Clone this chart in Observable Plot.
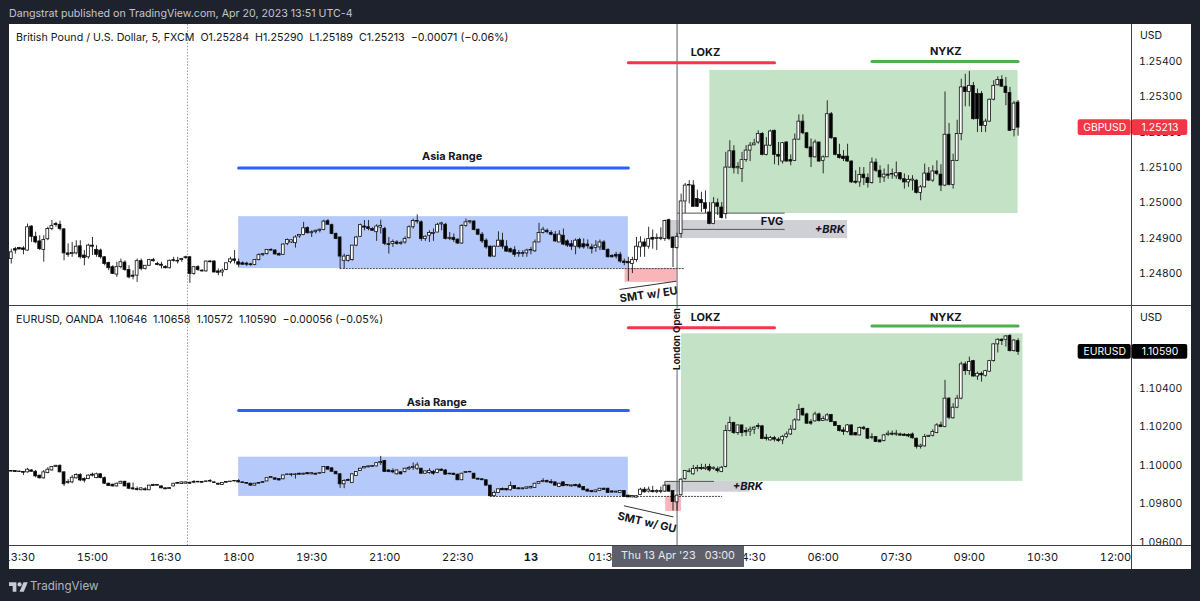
<!DOCTYPE html>
<html><head><meta charset="utf-8">
<script src="https://cdn.jsdelivr.net/npm/d3@7"></script>
<script src="https://cdn.jsdelivr.net/npm/@observablehq/plot@0.6"></script>
<style>
html,body{margin:0;padding:0;width:1200px;height:601px;overflow:hidden;background:#1e222d;font-family:Inter,"Noto Sans",sans-serif}
.abs{position:absolute;white-space:pre}
.hair{position:absolute;background:#3c3f48}
#panel{position:absolute;left:9px;top:24px;width:1182px;height:545px;background:#fff}
svg.plot-host{position:absolute}
</style></head><body>
<div id="panel"></div>
<div class="abs" style="left:9px;top:7px;font-size:10.65px;line-height:14px;color:#c3c6ce">Dangstrat published on TradingView.com, Apr 20, 2023 13:51 UTC-4</div>
<div id="top" style="position:absolute;left:9px;top:24px"></div>
<div id="bottom" style="position:absolute;left:9px;top:305px"></div>
<div class="abs" style="left:16px;top:31px;font-size:10.7px;line-height:14px;color:#131722">British Pound / U.S. Dollar, 5, FXCM  O1.25284  H1.25290  L1.25189  C1.25213  −0.00071 (−0.06%)</div>
<div class="abs" style="left:16px;top:313px;font-size:10.7px;line-height:14px;color:#131722">EURUSD, OANDA  1.10646  1.10658  1.10572  1.10590  −0.00056 (−0.05%)</div>
<div class="hair" style="left:9px;top:305px;width:1182px;height:1px"></div>
<div class="hair" style="left:9px;top:545px;width:1182px;height:1px"></div>
<div class="hair" style="left:1131px;top:24px;width:1px;height:545px"></div>
<div class="abs" style="left:612px;top:546px;width:132px;height:20.5px;background:#5d606b;color:#e8e9ec;font-size:10.8px;line-height:20.5px;text-align:center">Thu 13 Apr '23   03:00</div>
<svg style="position:absolute;left:9px;top:581px" width="19" height="11" viewBox="0 0 36 20"><path fill="#c9cbd2" d="M14 20H7V9H0V2h14v18zM28 20h-8l7.5-18h8L28 20z"/><circle cx="20" cy="6" r="4" fill="#c9cbd2"/></svg>
<div class="abs" style="left:30px;top:578px;font-size:11.6px;line-height:17px;color:#b2b5be">TradingView</div>
<script>
// Candles: time of first bar in minutes from 18:00 on 12 Apr, 5-minute step.
const firstBar = -280, barStep = 5;
const gbpBase = 1.24, eurBase = 1.09;
// GBPUSD open, high, low, close per bar, in 0.00001 above gbpBase
const gbpBars = [
841,869,827,860, 869,874,855,865, 872,874,868,868, 871,876,853,867, 865,940,863,931, 933,935,888,904, 904,917,884,888, 891,907,865,869,
867,907,832,895, 897,931,893,926, 926,950,921,935, 940,945,931,937, 938,948,921,926, 925,927,836,857, 857,884,846,853, 855,888,846,858,
857,893,853,876, 877,893,841,846, 851,865,822,844, 846,883,841,879, 879,902,851,876, 867,879,846,853, 865,869,841,846, 846,848,822,827,
830,832,808,815, 818,822,797,799, 797,832,789,818, 818,841,813,832, 831,836,806,810, 810,822,785,789, 794,808,782,791, 794,841,775,835,
835,841,808,813, 813,822,810,822, 822,840,820,838, 838,843,832,835, 827,832,822,824, 825,832,813,822, 819,822,813,815, 815,838,813,836,
838,846,832,836, 836,846,827,834, 838,843,832,841, 846,849,840,844, 846,848,772,799, 799,820,795,818, 818,822,806,810, 808,811,804,806,
806,835,804,834, 834,837,830,832, 834,836,802,803, 806,813,794,802, 803,813,791,808, 810,830,808,829, 832,846,827,840, 840,865,827,836,
832,841,818,825, 829,833,823,825, 828,832,820,825, 826,829,820,824, 824,840,822,838, 838,856,836,852, 852,856,848,855, 855,868,852,867,
867,870,863,865, 865,868,853,854, 855,858,850,851, 853,884,851,882, 884,898,879,895, 888,896,885,894, 886,907,872,902, 905,910,900,909,
909,945,907,928, 929,932,912,914, 914,921,902,917, 917,923,912,921, 921,926,915,924, 923,951,921,947, 948,953,938,938, 937,940,910,912,
912,915,896,898, 902,903,813,848, 836,855,813,848, 836,852,832,850, 838,880,835,879, 879,905,876,902, 904,940,902,937, 933,950,921,930,
931,950,921,926, 926,930,920,921, 917,938,891,933, 930,951,912,935, 926,931,879,884, 883,902,855,881, 884,895,874,889, 888,893,880,884,
884,891,880,887, 888,904,883,898, 900,935,898,931, 931,954,926,949, 949,966,940,947, 945,949,891,898, 898,907,891,904, 907,921,888,915,
912,926,891,915, 916,942,916,938, 939,945,921,942, 938,942,895,898, 898,916,893,901, 901,912,888,895, 896,898,882,885, 885,938,883,935,
935,954,931,945, 945,950,940,948, 947,950,921,923, 924,926,907,910, 910,916,885,891, 893,898,869,874, 876,878,845,848, 848,878,846,876,
876,918,874,893, 893,914,869,876, 876,893,860,862, 869,872,858,860, 866,876,846,853, 855,865,846,858, 855,865,846,858, 857,869,846,865,
865,874,853,867, 863,895,860,888, 888,942,888,915, 915,931,912,924, 921,926,912,917, 915,921,907,910, 910,919,888,891, 888,921,888,910,
907,926,879,882, 891,895,874,879, 883,893,865,876, 876,898,853,893, 895,900,869,874, 883,898,869,874, 882,895,869,877, 874,883,855,869,
872,893,860,879, 874,895,865,888, 888,893,865,867, 867,870,844,846, 850,853,844,846, 853,860,841,848, 853,860,829,834, 834,841,822,830,
833,846,778,829, 827,846,800,838, 838,902,832,876, 874,904,846,888, 888,898,846,876, 876,931,869,898, 901,923,869,896, 898,912,865,901,
898,929,893,901, 898,951,891,949, 951,954,893,898, 902,904,817,872, 872,914,869,904, 912,1025,900,1004, 1004,1055,970,1049, 1049,1063,997,1051,
1049,1063,987,989, 1011,1036,987,989, 1008,1030,973,999, 999,1034,970,983, 973,1001,938,940, 940,1015,938,999, 999,1011,964,989, 987,1001,954,957,
968,1143,954,1100, 1100,1176,1098,1146, 1146,1162,1082,1098, 1098,1114,1080,1102, 1096,1143,1058,1121, 1121,1162,1115,1148, 1148,1171,1117,1162, 1163,1180,1162,1168,
1171,1204,1166,1195, 1195,1199,1133,1136, 1136,1185,1133,1162, 1162,1206,1159,1202, 1204,1206,1108,1136, 1136,1171,1105,1131, 1117,1171,1110,1169, 1171,1173,1115,1117,
1121,1136,1105,1117, 1119,1195,1117,1179, 1179,1249,1178,1230, 1230,1249,1193,1197, 1197,1199,1152,1155, 1157,1181,1100,1129, 1129,1178,1127,1171, 1171,1171,1115,1117,
1119,1133,1082,1129, 1129,1289,1129,1251, 1251,1256,1180,1183, 1183,1185,1133,1136, 1136,1166,1124,1127, 1131,1148,1117,1124, 1131,1166,1115,1117, 1117,1119,1055,1058,
1060,1091,1053,1057, 1058,1100,1044,1079, 1080,1100,1049,1070, 1070,1082,1042,1056, 1056,1127,1053,1114, 1114,1124,1086,1091, 1091,1105,1055,1072, 1072,1096,1058,1080,
1080,1108,1067,1077, 1080,1096,1067,1082, 1075,1116,1067,1084, 1084,1086,1063,1067, 1067,1082,1039,1058, 1058,1077,1044,1065, 1063,1077,1034,1066, 1063,1065,1025,1028,
1028,1049,1006,1044, 1044,1110,1042,1083, 1083,1100,1061,1063, 1063,1105,1058,1089, 1089,1119,1077,1082, 1080,1108,1032,1049, 1049,1314,1046,1193, 1193,1225,1048,1051,
1051,1138,1039,1119, 1119,1234,1117,1195, 1195,1350,1176,1327, 1327,1364,1272,1314, 1314,1372,1272,1331, 1331,1341,1234,1237, 1308,1322,1199,1237, 1308,1315,1199,1218,
1218,1237,1199,1230, 1230,1294,1228,1292, 1292,1346,1289,1331, 1333,1357,1331,1348, 1348,1360,1327,1329, 1329,1355,1275,1311, 1311,1327,1202,1204, 1206,1287,1187,1281,
1284,1290,1189,1213];
// EURUSD open, high, low, close per bar, in 0.00001 above eurBase
const eurBars = [
971,973,966,968, 971,973,964,966, 968,971,964,966, 966,968,948,962, 964,985,960,978, 974,978,966,967, 967,974,936,943, 947,948,930,933,
933,974,929,964, 960,988,957,978, 974,994,971,992, 992,1001,990,998, 998,1003,962,964, 964,967,891,902, 909,926,902,914, 912,948,905,936,
933,957,929,950, 950,957,915,922, 929,936,909,921, 929,951,926,947, 952,960,940,947, 934,960,931,954, 954,957,931,934, 934,940,902,905,
905,908,890,893, 900,902,888,891, 891,908,888,905, 905,918,903,915, 915,918,889,891, 905,909,874,879, 881,909,870,876, 877,888,867,872,
871,883,868,881, 876,884,867,871, 871,897,869,895, 898,902,892,893, 898,900,893,895, 891,893,879,881, 881,883,874,876, 877,885,875,883,
891,907,889,905, 909,912,904,905, 903,914,901,912, 905,914,903,912, 910,913,903,905, 910,922,905,914, 912,917,909,915, 914,916,908,910,
914,919,911,917, 916,926,910,919, 912,914,906,909, 905,907,897,900, 898,910,896,909, 910,916,908,914, 914,917,911,916, 917,920,914,919,
919,926,909,912, 912,914,906,909, 909,911,904,905, 905,907,893,895, 895,907,893,905, 905,911,902,909, 909,916,907,914, 917,936,915,934,
934,941,932,940, 933,935,923,926, 929,931,920,922, 928,950,926,948, 950,955,948,953, 953,957,940,950, 950,957,929,953, 957,959,950,952,
952,959,950,957, 960,962,952,954, 954,962,951,960, 957,959,950,952, 957,962,955,960, 960,994,958,992, 992,994,976,978, 985,987,965,967,
967,969,952,954, 954,957,881,902, 902,926,879,919, 924,929,917,920, 909,957,907,954, 945,968,943,966, 971,985,969,983, 985,994,983,992,
990,997,988,995, 992,999,990,997, 995,1014,993,1012, 1012,1047,1000,1018, 1023,1026,964,966, 974,976,962,966, 971,983,957,964, 954,976,950,974,
964,968,950,954, 966,985,960,983, 980,995,974,987, 987,1013,974,992, 983,1013,974,1000, 983,985,955,957, 957,971,955,969, 961,983,954,971,
966,974,949,957, 961,980,957,978, 978,982,970,971, 974,978,950,952, 957,960,950,954, 957,959,948,950, 952,955,921,923, 923,959,921,957,
961,968,958,966, 966,970,961,964, 957,959,930,931, 931,933,924,926, 928,931,921,923, 923,925,893,895, 895,897,838,840, 840,867,836,857,
857,878,855,876, 878,883,870,871, 878,880,867,871, 871,914,867,893, 893,895,876,878, 881,884,874,876, 876,882,873,881, 879,888,876,886,
881,892,878,888, 883,907,881,905, 905,916,903,914, 914,931,910,919, 919,924,910,912, 914,926,902,908, 912,914,893,895, 888,907,885,905,
912,914,890,892, 895,900,890,898, 891,898,888,896, 898,902,890,892, 897,905,881,885, 888,890,869,871, 874,877,862,864, 867,870,858,861,
861,872,858,870, 867,880,865,879, 879,882,870,873, 879,881,855,857, 865,868,857,859, 859,866,856,864, 857,870,855,867, 867,870,835,836,
843,845,832,834, 834,843,831,841, 833,842,830,840, 846,881,843,874, 874,885,857,860, 864,888,857,874, 867,891,857,861, 861,874,853,867,
862,888,853,867, 864,898,860,895, 895,898,862,864, 867,867,763,810, 808,846,763,843, 845,931,840,926, 930,974,923,971, 966,983,961,969,
954,1000,949,981, 981,1000,966,987, 987,1006,974,981, 981,1006,974,988, 992,1006,966,974, 982,992,975,988, 980,992,961,971, 966,995,962,988,
992,1208,988,1179, 1179,1251,1174,1220, 1220,1225,1161,1168, 1168,1208,1156,1208, 1208,1208,1148,1168, 1179,1196,1151,1172, 1176,1200,1151,1186, 1186,1203,1161,1196,
1205,1217,1186,1200, 1203,1208,1134,1137, 1144,1161,1127,1137, 1130,1151,1127,1142, 1142,1151,1122,1134, 1134,1144,1120,1127, 1130,1156,1108,1148, 1148,1174,1139,1161,
1161,1208,1156,1186, 1186,1243,1182,1234, 1234,1317,1231,1289, 1293,1298,1255,1260, 1265,1272,1213,1217, 1225,1238,1208,1217, 1229,1277,1225,1265, 1265,1272,1225,1231,
1231,1255,1229,1241, 1234,1269,1231,1260, 1262,1265,1224,1225, 1225,1227,1203,1205, 1205,1208,1174,1179, 1182,1196,1156,1174, 1174,1213,1168,1208, 1208,1210,1156,1156,
1168,1170,1154,1156, 1156,1200,1153,1194, 1196,1203,1182,1189, 1189,1193,1134,1139, 1146,1165,1134,1144, 1148,1150,1120,1122, 1130,1132,1118,1120, 1127,1161,1122,1156,
1158,1179,1151,1165, 1165,1179,1153,1160, 1160,1182,1151,1165, 1161,1168,1153,1155, 1160,1165,1151,1153, 1158,1165,1144,1151, 1161,1168,1137,1141, 1139,1141,1085,1096,
1096,1110,1085,1103, 1099,1161,1096,1148, 1148,1156,1146,1154, 1154,1186,1148,1174, 1168,1217,1165,1208, 1208,1225,1196,1200, 1200,1442,1196,1347, 1347,1352,1238,1248,
1245,1321,1241,1300, 1300,1364,1295,1347, 1347,1537,1341,1525, 1525,1537,1468,1490, 1490,1563,1468,1537, 1542,1546,1459,1462, 1462,1485,1442,1476, 1476,1485,1433,1468,
1466,1494,1459,1490, 1487,1546,1483,1542, 1542,1632,1537,1629, 1629,1658,1584,1653, 1653,1658,1623,1646, 1653,1675,1615,1670, 1673,1680,1589,1594, 1594,1653,1589,1649,
1646,1658,1572,1590];

const priceTicksGbp = [1.254,1.253,1.252,1.251,1.25,1.249,1.248];
const priceTicksEur = [1.104,1.102,1.1,1.098,1.096];
const timeTicks = [-270,-180,-90,0,90,180,270,450,630,720,810,900,990,1080];
const timeTickLabels = ["13:30","15:00","16:30","18:00","19:30","21:00","22:30","01:30","04:30","06:00","07:30","09:00","10:30","12:00"];
const dayTick = [360], dayTickLabel = "13";
const timeDomain = [-282.2,1099.7];
const gbpDomain = [1.247095,1.25505], eurDomain = [1.09584,1.10831];
const gbpLast = 1.25213, eurLast = 1.1059;
const tagNameSpan = [1034,1099.4], tagValueSpan = [1100.6,1169];
const gbpTagBand = [1.25191,1.25235], eurTagBand = [1.10552,1.10628];

const asiaSpan = [0,480], lokzSpan = [480,660], nykzSpan = [780,960];
const gbpAsia = [1.24814,1.24961], gbpAsiaLevel = 1.25099, gbpLokzLevel = 1.25397, gbpNykzLevel = 1.254;
const gbpGreenSpan = [580.4,960], gbpGreen = [1.2497,1.25375];
const gbpGreySpan = [531,750], gbpGrey = [1.24899,1.2495];
const gbpRedSpan = [476,540], gbpRed = [1.24775,1.24814];
const gbpDotSpan = [125,548], gbpFvgTop = [[540.5,1.24971],[672,1.24971]], gbpFvgBottom = [[547,1.24925],[672,1.24925]];
const gbpSmtLine = [[469.5,1.24755],[538.5,1.24778]];

const eurAsia = [1.09839,1.10043], eurAsiaLevel = 1.10286, eurLokzLevel = 1.10715, eurNykzLevel = 1.10725;
const eurGreenSpan = [545.5,966], eurGreen = [1.09917,1.10684];
const eurGreySpan = [525,630], eurGrey = [1.09861,1.09917];
const eurRedSpan = [526,545.5], eurRed = [1.09761,1.09839];
const eurDotSpan = [310,595], eurBrkLine = [[525,1.09885],[525,1.09917],[585,1.09917]];
const eurSmtLine = [[475,1.0979],[535,1.09733]];

const toBars = (flat, base) => d3.range(flat.length / 4).map(i => ({
  t: firstBar + i * barStep,
  o: base + flat[4*i] / 1e5, h: base + flat[4*i+1] / 1e5,
  l: base + flat[4*i+2] / 1e5, c: base + flat[4*i+3] / 1e5
}));
const box = (xs, ys, fill, extra = {}) => Plot.rect([0], {x1: () => xs[0], x2: () => xs[1], y1: () => ys[0], y2: () => ys[1], fill, ...extra});
const zone = (xs, p, stroke) => Plot.line(xs.map(x => [x, p]), {stroke, strokeWidth: 3, strokeLinecap: "round"});
const note = (x, y, text, extra = {}) => Plot.text([text], {x: () => x, y: () => y, text: d => d, fontSize: 11, fontWeight: 700, fill: "#131722", ...extra});
const candles = bars => [
  Plot.ruleX(bars, {x: "t", y1: "l", y2: "h", stroke: "#1a1a1a", strokeWidth: 0.9}),
  Plot.rect(bars, {x1: d => d.t - 1.75, x2: d => d.t + 1.75, y1: "o", y2: "c", fill: d => d.c >= d.o ? "#fff" : "#000", stroke: "#111", strokeWidth: 0.8})
];
const yAxis = ticks => Plot.axisY(ticks, {anchor: "right", tickSize: 0, tickPadding: 7.5, tickFormat: d3.format(".5f"), label: null, fontSize: 10.4, fill: "#131722"});
const usd = dy => Plot.text(["USD"], {frameAnchor: "top-right", textAnchor: "start", dx: 8.5, dy, fontSize: 10.5, fill: "#131722"});
const tag = (name, value, band, fill, p) => [
  box(tagNameSpan, band, fill, {rx: 2}), box(tagValueSpan, band, fill, {rx: 2}),
  note((tagNameSpan[0] + tagNameSpan[1]) / 2, p, name, {fill: "#fff", fontWeight: 400, fontSize: 10.4}),
  note((tagValueSpan[0] + tagValueSpan[1]) / 2, p, d3.format(".5f")(value), {fill: "#fff", fontWeight: 400, fontSize: 10.4})
];
const common = {width: 1182, marginLeft: 0, marginRight: 60, marginTop: 0,
  style: {background: "transparent", fontFamily: "Inter, 'Noto Sans', sans-serif", fontSize: "11px", overflow: "hidden", color: "#131722"}};
const crossAt = 540, dottedAt = -63;
const dotted = Plot.ruleX([dottedAt], {stroke: "#9a9da6", strokeDasharray: "1.5 1.6"});
const crossStroke = "#5d606b";

document.getElementById("top").append(Plot.plot({...common, height: 281, marginBottom: 0,
  x: {domain: timeDomain, axis: null},
  y: {domain: gbpDomain, axis: null},
  marks: [
    box(asiaSpan, gbpAsia, "#b5c9fb"),
    box(gbpGreenSpan, gbpGreen, "#c4e3c6"),
    box(gbpGreySpan, gbpGrey, "#cfd0d5"),
    box(gbpRedSpan, gbpRed, "#f8b5ba"),
    dotted,
    Plot.ruleX([crossAt], {stroke: crossStroke}),
    Plot.line(gbpDotSpan.map(x => [x, gbpAsia[0]]), {stroke: "#444", strokeDasharray: "1.2 1.8", strokeWidth: 1}),
    Plot.line(gbpFvgTop, {stroke: "#555", strokeWidth: 1}),
    Plot.line(gbpFvgBottom, {stroke: "#555", strokeWidth: 1}),
    Plot.line(gbpSmtLine, {stroke: "#333", strokeWidth: 1}),
    ...candles(toBars(gbpBars, gbpBase)),
    zone(asiaSpan, gbpAsiaLevel, "#2962ff"),
    zone(lokzSpan, gbpLokzLevel, "#f23645"),
    zone(nykzSpan, gbpNykzLevel, "#4caf50"),
    note(263, 1.25130, "Asia Range"),
    note(575, 1.25426, "LOKZ"),
    note(871, 1.25428, "NYKZ"),
    note(657, 1.24947, "FVG"),
    note(728, 1.24925, "+BRK", {fontStyle: "italic"}),
    note(505, 1.2474, "SMT w/ EU", {rotate: -8}),
    yAxis(priceTicksGbp),
    usd(7.5),
    ...tag("GBPUSD", gbpLast, gbpTagBand, "#f23645", gbpLast)
  ]
}));

const clearGap = [110816e-5, 110494e-5];
document.getElementById("bottom").append(Plot.plot({...common, height: 264, marginBottom: 24,
  x: {domain: timeDomain, axis: null},
  y: {domain: eurDomain, axis: null},
  marks: [
    box(asiaSpan, eurAsia, "#b5c9fb"),
    box(eurGreenSpan, eurGreen, "#c4e3c6"),
    box(eurGreySpan, eurGrey, "#cfd0d5"),
    box(eurRedSpan, eurRed, "#f8b5ba"),
    dotted,
    Plot.ruleX([crossAt], {y1: eurDomain[1], y2: clearGap[0], stroke: crossStroke}),
    Plot.ruleX([crossAt], {y1: clearGap[1], y2: eurDomain[0], stroke: crossStroke}),
    Plot.line(eurDotSpan.map(x => [x, eurAsia[0]]), {stroke: "#444", strokeDasharray: "1.2 1.8", strokeWidth: 1}),
    Plot.line(eurBrkLine, {stroke: "#555", strokeWidth: 1}),
    Plot.line(eurSmtLine, {stroke: "#333", strokeWidth: 1}),
    ...candles(toBars(eurBars, eurBase)),
    zone(asiaSpan, eurAsiaLevel, "#2962ff"),
    zone(lokzSpan, eurLokzLevel, "#f23645"),
    zone(nykzSpan, eurNykzLevel, "#4caf50"),
    note(244, 1.10328, "Asia Range"),
    note(575, 1.10770, "LOKZ"),
    note(871, 1.10770, "NYKZ"),
    note(627, 1.09891, "+BRK", {fontStyle: "italic"}),
    note(503, 1.09703, "SMT w/ GU", {rotate: 13}),
    note(crossAt, 1.10657, "London Open", {rotate: -90, fontSize: 9.5}),
    yAxis(priceTicksEur),
    usd(8.5),
    Plot.axisX(timeTicks, {anchor: "bottom", tickSize: 0, tickPadding: 8, label: null, fontSize: 11, fill: "#131722",
      tickFormat: d => timeTickLabels[timeTicks.indexOf(d)]}),
    Plot.axisX(dayTick, {anchor: "bottom", tickSize: 0, tickPadding: 8, label: null, fontSize: 11, fontWeight: 700, fill: "#131722",
      tickFormat: () => dayTickLabel}),
    ...tag("EURUSD", eurLast, eurTagBand, "#000", eurLast)
  ]
}));
</script>
</body></html>
